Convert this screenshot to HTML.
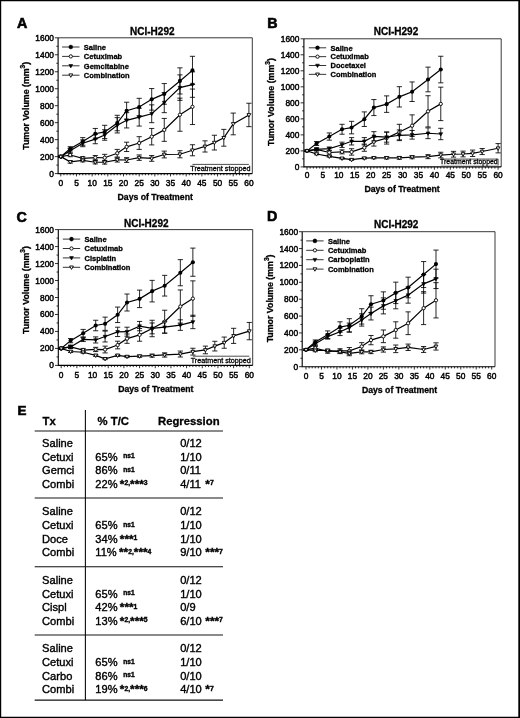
<!DOCTYPE html>
<html><head><meta charset="utf-8"><title>Figure</title>
<style>html,body{margin:0;padding:0;background:#fff}svg{display:block}</style></head>
<body>
<svg width="520" height="718" viewBox="0 0 520 718">
<defs><filter id="soft" x="0" y="0" width="520" height="718" filterUnits="userSpaceOnUse"><feGaussianBlur stdDeviation="0.35"/></filter></defs>
<rect x="0" y="0" width="520" height="718" fill="#fff"/>
<g filter="url(#soft)">
<path d="M58.1 37.8H252.3V173.6" fill="none" stroke="#222" stroke-width="0.9"/>
<path d="M58.1 37.8V173.6H252.3" fill="none" stroke="#000" stroke-width="1.1"/>
<path d="M58.1 173.6h-3.3M58.1 165.11h-1.8M58.1 156.62h-3.3M58.1 148.14h-1.8M58.1 139.65h-3.3M58.1 131.16h-1.8M58.1 122.67h-3.3M58.1 114.19h-1.8M58.1 105.7h-3.3M58.1 97.21h-1.8M58.1 88.72h-3.3M58.1 80.24h-1.8M58.1 71.75h-3.3M58.1 63.26h-1.8M58.1 54.77h-3.3M58.1 46.29h-1.8M58.1 37.8h-3.3M60.8 173.6v2.8M63.93 173.6v1.7M67.07 173.6v1.7M70.2 173.6v1.7M73.34 173.6v1.7M76.47 173.6v2.8M79.61 173.6v1.7M82.75 173.6v1.7M85.88 173.6v1.7M89.01 173.6v1.7M92.15 173.6v2.8M95.28 173.6v1.7M98.42 173.6v1.7M101.55 173.6v1.7M104.69 173.6v1.7M107.82 173.6v2.8M110.96 173.6v1.7M114.09 173.6v1.7M117.23 173.6v1.7M120.36 173.6v1.7M123.5 173.6v2.8M126.63 173.6v1.7M129.77 173.6v1.7M132.9 173.6v1.7M136.04 173.6v1.7M139.18 173.6v2.8M142.31 173.6v1.7M145.44 173.6v1.7M148.58 173.6v1.7M151.71 173.6v1.7M154.85 173.6v2.8M157.98 173.6v1.7M161.12 173.6v1.7M164.25 173.6v1.7M167.39 173.6v1.7M170.52 173.6v2.8M173.66 173.6v1.7M176.79 173.6v1.7M179.93 173.6v1.7M183.06 173.6v1.7M186.2 173.6v2.8M189.33 173.6v1.7M192.47 173.6v1.7M195.6 173.6v1.7M198.74 173.6v1.7M201.88 173.6v2.8M205.01 173.6v1.7M208.14 173.6v1.7M211.28 173.6v1.7M214.41 173.6v1.7M217.55 173.6v2.8M220.69 173.6v1.7M223.82 173.6v1.7M226.95 173.6v1.7M230.09 173.6v1.7M233.22 173.6v2.8M236.36 173.6v1.7M239.5 173.6v1.7M242.63 173.6v1.7M245.76 173.6v1.7M248.9 173.6v2.8" fill="none" stroke="#000" stroke-width="0.8"/>
<g font-family="Liberation Sans, Arial, sans-serif" stroke="#000" stroke-width="0.3" font-size="8.4" fill="#000" style="stroke-width:0.45">
<text x="54" y="176.6" text-anchor="end">0</text>
<text x="54" y="159.62" text-anchor="end">200</text>
<text x="54" y="142.65" text-anchor="end">400</text>
<text x="54" y="125.67" text-anchor="end">600</text>
<text x="54" y="108.7" text-anchor="end">800</text>
<text x="54" y="91.72" text-anchor="end">1000</text>
<text x="54" y="74.75" text-anchor="end">1200</text>
<text x="54" y="57.77" text-anchor="end">1400</text>
<text x="54" y="40.8" text-anchor="end">1600</text>
<text x="60.8" y="186.1" text-anchor="middle">0</text>
<text x="76.47" y="186.1" text-anchor="middle">5</text>
<text x="92.15" y="186.1" text-anchor="middle">10</text>
<text x="107.82" y="186.1" text-anchor="middle">15</text>
<text x="123.5" y="186.1" text-anchor="middle">20</text>
<text x="139.18" y="186.1" text-anchor="middle">25</text>
<text x="154.85" y="186.1" text-anchor="middle">30</text>
<text x="170.52" y="186.1" text-anchor="middle">35</text>
<text x="186.2" y="186.1" text-anchor="middle">40</text>
<text x="201.88" y="186.1" text-anchor="middle">45</text>
<text x="217.55" y="186.1" text-anchor="middle">50</text>
<text x="233.22" y="186.1" text-anchor="middle">55</text>
<text x="248.9" y="186.1" text-anchor="middle">60</text>
</g>
<text x="152.3" y="35.3" font-family="Liberation Sans, Arial, sans-serif" stroke="#000" stroke-width="0.3" font-size="10" font-weight="bold" text-anchor="middle">NCI-H292</text>
<text x="155.2" y="200.4" font-family="Liberation Sans, Arial, sans-serif" stroke="#000" stroke-width="0.3" font-size="8.7" font-weight="bold" text-anchor="middle">Days of Treatment</text>
<text transform="translate(28.7 105.8) rotate(-90)" font-family="Liberation Sans, Arial, sans-serif" stroke="#000" stroke-width="0.3" font-size="8.8" font-weight="bold" text-anchor="middle">Tumor Volume (mm<tspan font-size="6.6" dy="-4">3</tspan><tspan dy="4">)</tspan></text>
<text x="17" y="28" font-family="Liberation Sans, Arial, sans-serif" stroke="#000" stroke-width="0.3" font-size="14.3" font-weight="bold" style="stroke-width:0.6">A</text>
<polyline points="60.8,156.62 70.2,148.82 82.75,141.43 95.28,133.71 104.69,131.93 117.23,123.01 126.63,110.71 139.18,107.06 151.71,99.33 164.25,93.9 179.93,80.92 192.47,70.39" fill="none" stroke="#000" stroke-width="1.2"/>
<path d="M60.8 155.95V157.3M58.2 155.95h5.2M58.2 157.3h5.2M70.2 146.69V150.94M67.61 146.69h5.2M67.61 150.94h5.2M82.75 137.61V145.25M80.15 137.61h5.2M80.15 145.25h5.2M95.28 128.45V138.97M92.69 128.45h5.2M92.69 138.97h5.2M104.69 125.31V138.55M102.09 125.31h5.2M102.09 138.55h5.2M117.23 115.29V130.74M114.63 115.29h5.2M114.63 130.74h5.2M126.63 102.22V119.2M124.03 102.22h5.2M124.03 119.2h5.2M139.18 98.32V115.8M136.58 98.32h5.2M136.58 115.8h5.2M151.71 88.56V110.11M149.11 88.56h5.2M149.11 110.11h5.2M164.25 83.55V104.26M161.66 83.55h5.2M161.66 104.26h5.2M179.93 67.85V93.99M177.33 67.85h5.2M177.33 93.99h5.2M192.47 56.3V84.48M189.87 56.3h5.2M189.87 84.48h5.2" fill="none" stroke="#000" stroke-width="0.85"/>
<circle cx="60.8" cy="156.62" r="2.05" fill="#000"/>
<circle cx="70.2" cy="148.82" r="2.05" fill="#000"/>
<circle cx="82.75" cy="141.43" r="2.05" fill="#000"/>
<circle cx="95.28" cy="133.71" r="2.05" fill="#000"/>
<circle cx="104.69" cy="131.93" r="2.05" fill="#000"/>
<circle cx="117.23" cy="123.01" r="2.05" fill="#000"/>
<circle cx="126.63" cy="110.71" r="2.05" fill="#000"/>
<circle cx="139.18" cy="107.06" r="2.05" fill="#000"/>
<circle cx="151.71" cy="99.33" r="2.05" fill="#000"/>
<circle cx="164.25" cy="93.9" r="2.05" fill="#000"/>
<circle cx="179.93" cy="80.92" r="2.05" fill="#000"/>
<circle cx="192.47" cy="70.39" r="2.05" fill="#000"/>
<polyline points="60.8,156.62 70.2,155.01 82.75,158.32 95.28,157.64 104.69,157.73 117.23,153.23 126.63,146.86 139.18,143.04 151.71,136.68 164.25,129.89 179.93,114.7 192.47,106.8" fill="none" stroke="#000" stroke-width="1.2"/>
<path d="M60.8 155.95V157.3M58.2 155.95h5.2M58.2 157.3h5.2M70.2 153.31V156.71M67.61 153.31h5.2M67.61 156.71h5.2M82.75 156.62V160.02M80.15 156.62h5.2M80.15 160.02h5.2M95.28 155.52V159.77M92.69 155.52h5.2M92.69 159.77h5.2M104.69 154.33V161.12M102.09 154.33h5.2M102.09 161.12h5.2M117.23 149.41V157.05M114.63 149.41h5.2M114.63 157.05h5.2M126.63 142.2V151.53M124.03 142.2h5.2M124.03 151.53h5.2M139.18 136.68V149.41M136.58 136.68h5.2M136.58 149.41h5.2M151.71 128.45V144.91M149.11 128.45h5.2M149.11 144.91h5.2M164.25 118.43V141.35M161.66 118.43h5.2M161.66 141.35h5.2M179.93 98.15V131.25M177.33 98.15h5.2M177.33 131.25h5.2M192.47 89.06V124.54M189.87 89.06h5.2M189.87 124.54h5.2" fill="none" stroke="#000" stroke-width="0.85"/>
<circle cx="60.8" cy="156.62" r="1.65" fill="#fff" stroke="#000" stroke-width="0.9"/>
<circle cx="70.2" cy="155.01" r="1.65" fill="#fff" stroke="#000" stroke-width="0.9"/>
<circle cx="82.75" cy="158.32" r="1.65" fill="#fff" stroke="#000" stroke-width="0.9"/>
<circle cx="95.28" cy="157.64" r="1.65" fill="#fff" stroke="#000" stroke-width="0.9"/>
<circle cx="104.69" cy="157.73" r="1.65" fill="#fff" stroke="#000" stroke-width="0.9"/>
<circle cx="117.23" cy="153.23" r="1.65" fill="#fff" stroke="#000" stroke-width="0.9"/>
<circle cx="126.63" cy="146.86" r="1.65" fill="#fff" stroke="#000" stroke-width="0.9"/>
<circle cx="139.18" cy="143.04" r="1.65" fill="#fff" stroke="#000" stroke-width="0.9"/>
<circle cx="151.71" cy="136.68" r="1.65" fill="#fff" stroke="#000" stroke-width="0.9"/>
<circle cx="164.25" cy="129.89" r="1.65" fill="#fff" stroke="#000" stroke-width="0.9"/>
<circle cx="179.93" cy="114.7" r="1.65" fill="#fff" stroke="#000" stroke-width="0.9"/>
<circle cx="192.47" cy="106.8" r="1.65" fill="#fff" stroke="#000" stroke-width="0.9"/>
<polyline points="60.8,156.62 70.2,150.68 82.75,143.3 95.28,139.14 104.69,134.98 117.23,125.31 126.63,120.3 139.18,117.16 151.71,113.76 164.25,102.64 179.93,87.62 192.47,84.57" fill="none" stroke="#000" stroke-width="1.2"/>
<path d="M60.8 155.95V157.3M58.2 155.95h5.2M58.2 157.3h5.2M70.2 148.56V152.81M67.61 148.56h5.2M67.61 152.81h5.2M82.75 139.9V146.69M80.15 139.9h5.2M80.15 146.69h5.2M95.28 134.56V143.72M92.69 134.56h5.2M92.69 143.72h5.2M104.69 129.72V140.24M102.09 129.72h5.2M102.09 140.24h5.2M117.23 117.67V132.94M114.63 117.67h5.2M114.63 132.94h5.2M126.63 112.66V127.94M124.03 112.66h5.2M124.03 127.94h5.2M139.18 108.25V126.07M136.58 108.25h5.2M136.58 126.07h5.2M151.71 104.85V122.67M149.11 104.85h5.2M149.11 122.67h5.2M164.25 92.63V112.66M161.66 92.63h5.2M161.66 112.66h5.2M179.93 74.89V100.35M177.33 74.89h5.2M177.33 100.35h5.2M192.47 71.83V97.3M189.87 71.83h5.2M189.87 97.3h5.2" fill="none" stroke="#000" stroke-width="0.85"/>
<polygon points="58.9,155.32 62.7,155.32 60.8,158.72" fill="#000" stroke="#000" stroke-width="0.6"/>
<polygon points="68.3,149.38 72.11,149.38 70.2,152.78" fill="#000" stroke="#000" stroke-width="0.6"/>
<polygon points="80.84,142 84.65,142 82.75,145.4" fill="#000" stroke="#000" stroke-width="0.6"/>
<polygon points="93.38,137.84 97.19,137.84 95.28,141.24" fill="#000" stroke="#000" stroke-width="0.6"/>
<polygon points="102.79,133.68 106.59,133.68 104.69,137.08" fill="#000" stroke="#000" stroke-width="0.6"/>
<polygon points="115.33,124.01 119.13,124.01 117.23,127.41" fill="#000" stroke="#000" stroke-width="0.6"/>
<polygon points="124.73,119 128.53,119 126.63,122.4" fill="#000" stroke="#000" stroke-width="0.6"/>
<polygon points="137.28,115.86 141.08,115.86 139.18,119.26" fill="#000" stroke="#000" stroke-width="0.6"/>
<polygon points="149.81,112.46 153.61,112.46 151.71,115.86" fill="#000" stroke="#000" stroke-width="0.6"/>
<polygon points="162.35,101.34 166.16,101.34 164.25,104.74" fill="#000" stroke="#000" stroke-width="0.6"/>
<polygon points="178.03,86.32 181.83,86.32 179.93,89.72" fill="#000" stroke="#000" stroke-width="0.6"/>
<polygon points="190.57,83.27 194.37,83.27 192.47,86.67" fill="#000" stroke="#000" stroke-width="0.6"/>
<polyline points="60.8,156.62 70.2,161.89 82.75,160.36 95.28,162.23 104.69,162.23 117.23,159.94 126.63,160.02 139.18,157.64 151.71,158.41 164.25,154.5 179.93,154.25 192.47,150.26 205.01,146.44 214.41,142.62 223.82,137.78 233.22,123.95 248.9,114.95" fill="none" stroke="#000" stroke-width="1.2"/>
<path d="M60.8 155.95V157.3M58.2 155.95h5.2M58.2 157.3h5.2M70.2 160.61V163.16M67.61 160.61h5.2M67.61 163.16h5.2M82.75 158.83V161.89M80.15 158.83h5.2M80.15 161.89h5.2M95.28 160.53V163.92M92.69 160.53h5.2M92.69 163.92h5.2M104.69 160.36V164.09M102.09 160.36h5.2M102.09 164.09h5.2M117.23 157.81V162.06M114.63 157.81h5.2M114.63 162.06h5.2M126.63 157.64V162.4M124.03 157.64h5.2M124.03 162.4h5.2M139.18 154.93V160.36M136.58 154.93h5.2M136.58 160.36h5.2M151.71 155.52V161.29M149.11 155.52h5.2M149.11 161.29h5.2M164.25 151.11V157.9M161.66 151.11h5.2M161.66 157.9h5.2M179.93 150.68V157.81M177.33 150.68h5.2M177.33 157.81h5.2M192.47 144.74V155.78M189.87 144.74h5.2M189.87 155.78h5.2M205.01 140.84V152.04M202.41 140.84h5.2M202.41 152.04h5.2M214.41 135.24V150M211.81 135.24h5.2M211.81 150h5.2M223.82 129.38V146.19M221.22 129.38h5.2M221.22 146.19h5.2M233.22 113.08V134.81M230.62 113.08h5.2M230.62 134.81h5.2M248.9 103.24V126.66M246.3 103.24h5.2M246.3 126.66h5.2" fill="none" stroke="#000" stroke-width="0.85"/>
<polygon points="58.9,155.32 62.7,155.32 60.8,158.72" fill="#fff" stroke="#000" stroke-width="0.9"/>
<polygon points="68.3,160.59 72.11,160.59 70.2,163.99" fill="#fff" stroke="#000" stroke-width="0.9"/>
<polygon points="80.84,159.06 84.65,159.06 82.75,162.46" fill="#fff" stroke="#000" stroke-width="0.9"/>
<polygon points="93.38,160.93 97.19,160.93 95.28,164.33" fill="#fff" stroke="#000" stroke-width="0.9"/>
<polygon points="102.79,160.93 106.59,160.93 104.69,164.33" fill="#fff" stroke="#000" stroke-width="0.9"/>
<polygon points="115.33,158.64 119.13,158.64 117.23,162.04" fill="#fff" stroke="#000" stroke-width="0.9"/>
<polygon points="124.73,158.72 128.53,158.72 126.63,162.12" fill="#fff" stroke="#000" stroke-width="0.9"/>
<polygon points="137.28,156.34 141.08,156.34 139.18,159.74" fill="#fff" stroke="#000" stroke-width="0.9"/>
<polygon points="149.81,157.11 153.61,157.11 151.71,160.51" fill="#fff" stroke="#000" stroke-width="0.9"/>
<polygon points="162.35,153.2 166.16,153.2 164.25,156.6" fill="#fff" stroke="#000" stroke-width="0.9"/>
<polygon points="178.03,152.95 181.83,152.95 179.93,156.35" fill="#fff" stroke="#000" stroke-width="0.9"/>
<polygon points="190.57,148.96 194.37,148.96 192.47,152.36" fill="#fff" stroke="#000" stroke-width="0.9"/>
<polygon points="203.11,145.14 206.91,145.14 205.01,148.54" fill="#fff" stroke="#000" stroke-width="0.9"/>
<polygon points="212.51,141.32 216.31,141.32 214.41,144.72" fill="#fff" stroke="#000" stroke-width="0.9"/>
<polygon points="221.92,136.48 225.72,136.48 223.82,139.88" fill="#fff" stroke="#000" stroke-width="0.9"/>
<polygon points="231.32,122.65 235.12,122.65 233.22,126.05" fill="#fff" stroke="#000" stroke-width="0.9"/>
<polygon points="247,113.65 250.8,113.65 248.9,117.05" fill="#fff" stroke="#000" stroke-width="0.9"/>
<g font-family="Liberation Sans, Arial, sans-serif" stroke="#000" stroke-width="0.3" font-size="7.5" font-weight="bold" fill="#000">
<path d="M62.1 47h17.4" stroke="#000" stroke-width="0.8"/>
<circle cx="70.8" cy="47" r="2.05" fill="#000"/>
<text x="83.8" y="49.7">Saline</text>
<path d="M62.1 56.4h17.4" stroke="#000" stroke-width="0.8"/>
<circle cx="70.8" cy="56.4" r="1.65" fill="#fff" stroke="#000" stroke-width="0.9"/>
<text x="83.8" y="59.1">Cetuximab</text>
<path d="M62.1 65.8h17.4" stroke="#000" stroke-width="0.8"/>
<polygon points="68.9,64.5 72.7,64.5 70.8,67.9" fill="#000" stroke="#000" stroke-width="0.6"/>
<text x="83.8" y="68.5">Gemcitabine</text>
<path d="M62.1 75.2h17.4" stroke="#000" stroke-width="0.8"/>
<polygon points="68.9,73.9 72.7,73.9 70.8,77.3" fill="#fff" stroke="#000" stroke-width="0.9"/>
<text x="83.8" y="77.9">Combination</text>
</g>
<path d="M192.47 164.4H248.9" stroke="#000" stroke-width="0.7" fill="none"/>
<text x="250.4" y="171" font-family="Liberation Sans, Arial, sans-serif" stroke="#000" stroke-width="0.3" font-size="7.2" text-anchor="end">Treatment stopped</text>
<path d="M303.9 38.8H501.2V166.9" fill="none" stroke="#222" stroke-width="0.9"/>
<path d="M303.9 38.8V166.9H501.2" fill="none" stroke="#000" stroke-width="1.1"/>
<path d="M303.9 166.9h-3.3M303.9 158.89h-1.8M303.9 150.89h-3.3M303.9 142.88h-1.8M303.9 134.88h-3.3M303.9 126.87h-1.8M303.9 118.86h-3.3M303.9 110.86h-1.8M303.9 102.85h-3.3M303.9 94.84h-1.8M303.9 86.84h-3.3M303.9 78.83h-1.8M303.9 70.82h-3.3M303.9 62.82h-1.8M303.9 54.81h-3.3M303.9 46.81h-1.8M303.9 38.8h-3.3M307 166.9v2.8M310.19 166.9v1.7M313.37 166.9v1.7M316.56 166.9v1.7M319.74 166.9v1.7M322.93 166.9v2.8M326.11 166.9v1.7M329.3 166.9v1.7M332.48 166.9v1.7M335.67 166.9v1.7M338.85 166.9v2.8M342.04 166.9v1.7M345.22 166.9v1.7M348.4 166.9v1.7M351.59 166.9v1.7M354.77 166.9v2.8M357.96 166.9v1.7M361.14 166.9v1.7M364.33 166.9v1.7M367.51 166.9v1.7M370.7 166.9v2.8M373.88 166.9v1.7M377.07 166.9v1.7M380.25 166.9v1.7M383.44 166.9v1.7M386.62 166.9v2.8M389.81 166.9v1.7M393 166.9v1.7M396.18 166.9v1.7M399.37 166.9v1.7M402.55 166.9v2.8M405.74 166.9v1.7M408.92 166.9v1.7M412.11 166.9v1.7M415.29 166.9v1.7M418.48 166.9v2.8M421.66 166.9v1.7M424.85 166.9v1.7M428.03 166.9v1.7M431.22 166.9v1.7M434.4 166.9v2.8M437.59 166.9v1.7M440.77 166.9v1.7M443.96 166.9v1.7M447.14 166.9v1.7M450.32 166.9v2.8M453.51 166.9v1.7M456.69 166.9v1.7M459.88 166.9v1.7M463.06 166.9v1.7M466.25 166.9v2.8M469.44 166.9v1.7M472.62 166.9v1.7M475.81 166.9v1.7M478.99 166.9v1.7M482.18 166.9v2.8M485.36 166.9v1.7M488.55 166.9v1.7M491.73 166.9v1.7M494.91 166.9v1.7M498.1 166.9v2.8" fill="none" stroke="#000" stroke-width="0.8"/>
<g font-family="Liberation Sans, Arial, sans-serif" stroke="#000" stroke-width="0.3" font-size="8.4" fill="#000" style="stroke-width:0.45">
<text x="299.4" y="169.9" text-anchor="end">0</text>
<text x="299.4" y="153.89" text-anchor="end">200</text>
<text x="299.4" y="137.88" text-anchor="end">400</text>
<text x="299.4" y="121.86" text-anchor="end">600</text>
<text x="299.4" y="105.85" text-anchor="end">800</text>
<text x="299.4" y="89.84" text-anchor="end">1000</text>
<text x="299.4" y="73.82" text-anchor="end">1200</text>
<text x="299.4" y="57.81" text-anchor="end">1400</text>
<text x="299.4" y="41.8" text-anchor="end">1600</text>
<text x="307" y="178.2" text-anchor="middle">0</text>
<text x="322.93" y="178.2" text-anchor="middle">5</text>
<text x="338.85" y="178.2" text-anchor="middle">10</text>
<text x="354.77" y="178.2" text-anchor="middle">15</text>
<text x="370.7" y="178.2" text-anchor="middle">20</text>
<text x="386.62" y="178.2" text-anchor="middle">25</text>
<text x="402.55" y="178.2" text-anchor="middle">30</text>
<text x="418.48" y="178.2" text-anchor="middle">35</text>
<text x="434.4" y="178.2" text-anchor="middle">40</text>
<text x="450.32" y="178.2" text-anchor="middle">45</text>
<text x="466.25" y="178.2" text-anchor="middle">50</text>
<text x="482.18" y="178.2" text-anchor="middle">55</text>
<text x="498.1" y="178.2" text-anchor="middle">60</text>
</g>
<text x="396" y="35.3" font-family="Liberation Sans, Arial, sans-serif" stroke="#000" stroke-width="0.3" font-size="10" font-weight="bold" text-anchor="middle">NCI-H292</text>
<text x="402.1" y="191.5" font-family="Liberation Sans, Arial, sans-serif" stroke="#000" stroke-width="0.3" font-size="8.7" font-weight="bold" text-anchor="middle">Days of Treatment</text>
<text transform="translate(274 102.1) rotate(-90)" font-family="Liberation Sans, Arial, sans-serif" stroke="#000" stroke-width="0.3" font-size="8.8" font-weight="bold" text-anchor="middle">Tumor Volume (mm<tspan font-size="6.6" dy="-4">3</tspan><tspan dy="4">)</tspan></text>
<text x="267.3" y="28" font-family="Liberation Sans, Arial, sans-serif" stroke="#000" stroke-width="0.3" font-size="14.3" font-weight="bold" style="stroke-width:0.6">B</text>
<polyline points="307,150.89 316.56,143.52 329.3,136.56 342.04,129.27 351.59,127.59 364.33,119.18 373.88,107.57 386.62,104.13 399.37,96.85 412.11,91.72 428.03,79.47 440.77,69.54" fill="none" stroke="#000" stroke-width="1.2"/>
<path d="M307 150.25V151.53M304.4 150.25h5.2M304.4 151.53h5.2M316.56 141.52V145.52M313.95 141.52h5.2M313.95 145.52h5.2M329.3 132.95V140.16M326.69 132.95h5.2M326.69 140.16h5.2M342.04 124.31V134.23M339.44 124.31h5.2M339.44 134.23h5.2M351.59 121.34V133.83M348.99 121.34h5.2M348.99 133.83h5.2M364.33 111.9V126.47M361.73 111.9h5.2M361.73 126.47h5.2M373.88 99.57V115.58M371.28 99.57h5.2M371.28 115.58h5.2M386.62 95.88V112.38M384.02 95.88h5.2M384.02 112.38h5.2M399.37 86.68V107.01M396.76 86.68h5.2M396.76 107.01h5.2M412.11 81.95V101.49M409.5 81.95h5.2M409.5 101.49h5.2M428.03 67.14V91.8M425.43 67.14h5.2M425.43 91.8h5.2M440.77 56.25V82.83M438.17 56.25h5.2M438.17 82.83h5.2" fill="none" stroke="#000" stroke-width="0.85"/>
<circle cx="307" cy="150.89" r="2.05" fill="#000"/>
<circle cx="316.56" cy="143.52" r="2.05" fill="#000"/>
<circle cx="329.3" cy="136.56" r="2.05" fill="#000"/>
<circle cx="342.04" cy="129.27" r="2.05" fill="#000"/>
<circle cx="351.59" cy="127.59" r="2.05" fill="#000"/>
<circle cx="364.33" cy="119.18" r="2.05" fill="#000"/>
<circle cx="373.88" cy="107.57" r="2.05" fill="#000"/>
<circle cx="386.62" cy="104.13" r="2.05" fill="#000"/>
<circle cx="399.37" cy="96.85" r="2.05" fill="#000"/>
<circle cx="412.11" cy="91.72" r="2.05" fill="#000"/>
<circle cx="428.03" cy="79.47" r="2.05" fill="#000"/>
<circle cx="440.77" cy="69.54" r="2.05" fill="#000"/>
<polyline points="307,150.89 316.56,149.37 329.3,152.49 342.04,151.85 351.59,151.93 364.33,147.69 373.88,141.68 386.62,138.08 399.37,132.07 412.11,125.67 428.03,111.34 440.77,103.89" fill="none" stroke="#000" stroke-width="1.2"/>
<path d="M307 150.25V151.53M304.4 150.25h5.2M304.4 151.53h5.2M316.56 147.77V150.97M313.95 147.77h5.2M313.95 150.97h5.2M329.3 150.89V154.09M326.69 150.89h5.2M326.69 154.09h5.2M342.04 149.85V153.85M339.44 149.85h5.2M339.44 153.85h5.2M351.59 148.73V155.13M348.99 148.73h5.2M348.99 155.13h5.2M364.33 144.08V151.29M361.73 144.08h5.2M361.73 151.29h5.2M373.88 137.28V146.08M371.28 137.28h5.2M371.28 146.08h5.2M386.62 132.07V144.08M384.02 132.07h5.2M384.02 144.08h5.2M399.37 124.31V139.84M396.76 124.31h5.2M396.76 139.84h5.2M412.11 114.86V136.48M409.5 114.86h5.2M409.5 136.48h5.2M428.03 95.72V126.95M425.43 95.72h5.2M425.43 126.95h5.2M440.77 87.16V120.62M438.17 87.16h5.2M438.17 120.62h5.2" fill="none" stroke="#000" stroke-width="0.85"/>
<circle cx="307" cy="150.89" r="1.65" fill="#fff" stroke="#000" stroke-width="0.9"/>
<circle cx="316.56" cy="149.37" r="1.65" fill="#fff" stroke="#000" stroke-width="0.9"/>
<circle cx="329.3" cy="152.49" r="1.65" fill="#fff" stroke="#000" stroke-width="0.9"/>
<circle cx="342.04" cy="151.85" r="1.65" fill="#fff" stroke="#000" stroke-width="0.9"/>
<circle cx="351.59" cy="151.93" r="1.65" fill="#fff" stroke="#000" stroke-width="0.9"/>
<circle cx="364.33" cy="147.69" r="1.65" fill="#fff" stroke="#000" stroke-width="0.9"/>
<circle cx="373.88" cy="141.68" r="1.65" fill="#fff" stroke="#000" stroke-width="0.9"/>
<circle cx="386.62" cy="138.08" r="1.65" fill="#fff" stroke="#000" stroke-width="0.9"/>
<circle cx="399.37" cy="132.07" r="1.65" fill="#fff" stroke="#000" stroke-width="0.9"/>
<circle cx="412.11" cy="125.67" r="1.65" fill="#fff" stroke="#000" stroke-width="0.9"/>
<circle cx="428.03" cy="111.34" r="1.65" fill="#fff" stroke="#000" stroke-width="0.9"/>
<circle cx="440.77" cy="103.89" r="1.65" fill="#fff" stroke="#000" stroke-width="0.9"/>
<polyline points="307,150.89 316.56,149.45 329.3,148.65 342.04,144.8 351.59,141.28 364.33,141.28 373.88,136.32 386.62,137.12 399.37,135.28 412.11,134.79 428.03,133.27 440.77,133.99" fill="none" stroke="#000" stroke-width="1.2"/>
<path d="M307 150.25V151.53M304.4 150.25h5.2M304.4 151.53h5.2M316.56 148.25V150.65M313.95 148.25h5.2M313.95 150.65h5.2M329.3 147.04V150.25M326.69 147.04h5.2M326.69 150.25h5.2M342.04 142.16V147.44M339.44 142.16h5.2M339.44 147.44h5.2M351.59 137.6V144.96M348.99 137.6h5.2M348.99 144.96h5.2M364.33 137.6V144.96M361.73 137.6h5.2M361.73 144.96h5.2M373.88 131.67V140.96M371.28 131.67h5.2M371.28 140.96h5.2M386.62 132.07V142.16M384.02 132.07h5.2M384.02 142.16h5.2M399.37 129.91V140.64M396.76 129.91h5.2M396.76 140.64h5.2M412.11 130.47V139.12M409.5 130.47h5.2M409.5 139.12h5.2M428.03 127.91V138.64M425.43 127.91h5.2M425.43 138.64h5.2M440.77 128.31V139.68M438.17 128.31h5.2M438.17 139.68h5.2" fill="none" stroke="#000" stroke-width="0.85"/>
<polygon points="305.1,149.59 308.9,149.59 307,152.99" fill="#000" stroke="#000" stroke-width="0.6"/>
<polygon points="314.66,148.15 318.45,148.15 316.56,151.55" fill="#000" stroke="#000" stroke-width="0.6"/>
<polygon points="327.4,147.35 331.19,147.35 329.3,150.75" fill="#000" stroke="#000" stroke-width="0.6"/>
<polygon points="340.14,143.5 343.94,143.5 342.04,146.9" fill="#000" stroke="#000" stroke-width="0.6"/>
<polygon points="349.69,139.98 353.49,139.98 351.59,143.38" fill="#000" stroke="#000" stroke-width="0.6"/>
<polygon points="362.43,139.98 366.23,139.98 364.33,143.38" fill="#000" stroke="#000" stroke-width="0.6"/>
<polygon points="371.99,135.02 375.78,135.02 373.88,138.42" fill="#000" stroke="#000" stroke-width="0.6"/>
<polygon points="384.73,135.82 388.52,135.82 386.62,139.22" fill="#000" stroke="#000" stroke-width="0.6"/>
<polygon points="397.47,133.98 401.26,133.98 399.37,137.38" fill="#000" stroke="#000" stroke-width="0.6"/>
<polygon points="410.21,133.49 414,133.49 412.11,136.89" fill="#000" stroke="#000" stroke-width="0.6"/>
<polygon points="426.13,131.97 429.93,131.97 428.03,135.37" fill="#000" stroke="#000" stroke-width="0.6"/>
<polygon points="438.87,132.69 442.67,132.69 440.77,136.09" fill="#000" stroke="#000" stroke-width="0.6"/>
<polyline points="307,150.89 316.56,154.01 329.3,156.33 342.04,158.33 351.59,159.69 364.33,158.17 373.88,157.85 386.62,157.85 399.37,157.85 412.11,157.13 428.03,156.65 440.77,155.05 453.51,154.25 463.06,154.01 472.62,153.29 482.18,151.53 498.1,148.25" fill="none" stroke="#000" stroke-width="1.2"/>
<path d="M307 150.25V151.53M304.4 150.25h5.2M304.4 151.53h5.2M316.56 153.21V154.81M313.95 153.21h5.2M313.95 154.81h5.2M329.3 155.53V157.13M326.69 155.53h5.2M326.69 157.13h5.2M342.04 157.53V159.13M339.44 157.53h5.2M339.44 159.13h5.2M351.59 159.05V160.33M348.99 159.05h5.2M348.99 160.33h5.2M364.33 157.37V158.97M361.73 157.37h5.2M361.73 158.97h5.2M373.88 156.89V158.81M371.28 156.89h5.2M371.28 158.81h5.2M386.62 156.65V159.05M384.02 156.65h5.2M384.02 159.05h5.2M399.37 156.41V159.29M396.76 156.41h5.2M396.76 159.29h5.2M412.11 155.53V158.73M409.5 155.53h5.2M409.5 158.73h5.2M428.03 154.65V158.65M425.43 154.65h5.2M425.43 158.65h5.2M440.77 152.25V157.85M438.17 152.25h5.2M438.17 157.85h5.2M453.51 151.37V157.13M450.91 151.37h5.2M450.91 157.13h5.2M463.06 151.13V156.89M460.46 151.13h5.2M460.46 156.89h5.2M472.62 150.09V156.49M470.02 150.09h5.2M470.02 156.49h5.2M482.18 148.49V154.57M479.57 148.49h5.2M479.57 154.57h5.2M498.1 143.6V152.89M495.5 143.6h5.2M495.5 152.89h5.2" fill="none" stroke="#000" stroke-width="0.85"/>
<polygon points="305.1,149.59 308.9,149.59 307,152.99" fill="#fff" stroke="#000" stroke-width="0.9"/>
<polygon points="314.66,152.71 318.45,152.71 316.56,156.11" fill="#fff" stroke="#000" stroke-width="0.9"/>
<polygon points="327.4,155.03 331.19,155.03 329.3,158.43" fill="#fff" stroke="#000" stroke-width="0.9"/>
<polygon points="340.14,157.03 343.94,157.03 342.04,160.43" fill="#fff" stroke="#000" stroke-width="0.9"/>
<polygon points="349.69,158.39 353.49,158.39 351.59,161.79" fill="#fff" stroke="#000" stroke-width="0.9"/>
<polygon points="362.43,156.87 366.23,156.87 364.33,160.27" fill="#fff" stroke="#000" stroke-width="0.9"/>
<polygon points="371.99,156.55 375.78,156.55 373.88,159.95" fill="#fff" stroke="#000" stroke-width="0.9"/>
<polygon points="384.73,156.55 388.52,156.55 386.62,159.95" fill="#fff" stroke="#000" stroke-width="0.9"/>
<polygon points="397.47,156.55 401.26,156.55 399.37,159.95" fill="#fff" stroke="#000" stroke-width="0.9"/>
<polygon points="410.21,155.83 414,155.83 412.11,159.23" fill="#fff" stroke="#000" stroke-width="0.9"/>
<polygon points="426.13,155.35 429.93,155.35 428.03,158.75" fill="#fff" stroke="#000" stroke-width="0.9"/>
<polygon points="438.87,153.75 442.67,153.75 440.77,157.15" fill="#fff" stroke="#000" stroke-width="0.9"/>
<polygon points="451.61,152.95 455.41,152.95 453.51,156.35" fill="#fff" stroke="#000" stroke-width="0.9"/>
<polygon points="461.17,152.71 464.96,152.71 463.06,156.11" fill="#fff" stroke="#000" stroke-width="0.9"/>
<polygon points="470.72,151.99 474.52,151.99 472.62,155.39" fill="#fff" stroke="#000" stroke-width="0.9"/>
<polygon points="480.28,150.23 484.07,150.23 482.18,153.63" fill="#fff" stroke="#000" stroke-width="0.9"/>
<polygon points="496.2,146.95 500,146.95 498.1,150.35" fill="#fff" stroke="#000" stroke-width="0.9"/>
<g font-family="Liberation Sans, Arial, sans-serif" stroke="#000" stroke-width="0.3" font-size="7.5" font-weight="bold" fill="#000">
<path d="M308.8 47.8h17.4" stroke="#000" stroke-width="0.8"/>
<circle cx="317.5" cy="47.8" r="2.05" fill="#000"/>
<text x="330.5" y="50.5">Saline</text>
<path d="M308.8 56.65h17.4" stroke="#000" stroke-width="0.8"/>
<circle cx="317.5" cy="56.65" r="1.65" fill="#fff" stroke="#000" stroke-width="0.9"/>
<text x="330.5" y="59.35">Cetuximab</text>
<path d="M308.8 65.5h17.4" stroke="#000" stroke-width="0.8"/>
<polygon points="315.6,64.2 319.4,64.2 317.5,67.6" fill="#000" stroke="#000" stroke-width="0.6"/>
<text x="330.5" y="68.2">Docetaxel</text>
<path d="M308.8 74.35h17.4" stroke="#000" stroke-width="0.8"/>
<polygon points="315.6,73.05 319.4,73.05 317.5,76.45" fill="#fff" stroke="#000" stroke-width="0.9"/>
<text x="330.5" y="77.05">Combination</text>
</g>
<path d="M440.77 159.08H498.1V165.5" stroke="#000" stroke-width="0.7" fill="none"/>
<path d="M440.77 165.3H498.1" stroke="#999" stroke-width="0.6" fill="none"/>
<text x="497.7" y="164.3" font-family="Liberation Sans, Arial, sans-serif" stroke="#000" stroke-width="0.3" font-size="6.9" text-anchor="end">Treatment stopped</text>
<path d="M58.3 229.6H252.7V365.4" fill="none" stroke="#222" stroke-width="0.9"/>
<path d="M58.3 229.6V365.4H252.7" fill="none" stroke="#000" stroke-width="1.1"/>
<path d="M58.3 365.4h-3.3M58.3 356.91h-1.8M58.3 348.42h-3.3M58.3 339.94h-1.8M58.3 331.45h-3.3M58.3 322.96h-1.8M58.3 314.47h-3.3M58.3 305.99h-1.8M58.3 297.5h-3.3M58.3 289.01h-1.8M58.3 280.52h-3.3M58.3 272.04h-1.8M58.3 263.55h-3.3M58.3 255.06h-1.8M58.3 246.57h-3.3M58.3 238.09h-1.8M58.3 229.6h-3.3M61.2 365.4v2.8M64.34 365.4v1.7M67.47 365.4v1.7M70.61 365.4v1.7M73.74 365.4v1.7M76.88 365.4v2.8M80.01 365.4v1.7M83.15 365.4v1.7M86.28 365.4v1.7M89.41 365.4v1.7M92.55 365.4v2.8M95.69 365.4v1.7M98.82 365.4v1.7M101.95 365.4v1.7M105.09 365.4v1.7M108.22 365.4v2.8M111.36 365.4v1.7M114.5 365.4v1.7M117.63 365.4v1.7M120.77 365.4v1.7M123.9 365.4v2.8M127.03 365.4v1.7M130.17 365.4v1.7M133.31 365.4v1.7M136.44 365.4v1.7M139.57 365.4v2.8M142.71 365.4v1.7M145.84 365.4v1.7M148.98 365.4v1.7M152.12 365.4v1.7M155.25 365.4v2.8M158.38 365.4v1.7M161.52 365.4v1.7M164.66 365.4v1.7M167.79 365.4v1.7M170.93 365.4v2.8M174.06 365.4v1.7M177.19 365.4v1.7M180.33 365.4v1.7M183.46 365.4v1.7M186.6 365.4v2.8M189.74 365.4v1.7M192.87 365.4v1.7M196 365.4v1.7M199.14 365.4v1.7M202.27 365.4v2.8M205.41 365.4v1.7M208.55 365.4v1.7M211.68 365.4v1.7M214.81 365.4v1.7M217.95 365.4v2.8M221.08 365.4v1.7M224.22 365.4v1.7M227.36 365.4v1.7M230.49 365.4v1.7M233.62 365.4v2.8M236.76 365.4v1.7M239.89 365.4v1.7M243.03 365.4v1.7M246.16 365.4v1.7M249.3 365.4v2.8" fill="none" stroke="#000" stroke-width="0.8"/>
<g font-family="Liberation Sans, Arial, sans-serif" stroke="#000" stroke-width="0.3" font-size="8.4" fill="#000" style="stroke-width:0.45">
<text x="54" y="368.4" text-anchor="end">0</text>
<text x="54" y="351.42" text-anchor="end">200</text>
<text x="54" y="334.45" text-anchor="end">400</text>
<text x="54" y="317.47" text-anchor="end">600</text>
<text x="54" y="300.5" text-anchor="end">800</text>
<text x="54" y="283.52" text-anchor="end">1000</text>
<text x="54" y="266.55" text-anchor="end">1200</text>
<text x="54" y="249.57" text-anchor="end">1400</text>
<text x="54" y="232.6" text-anchor="end">1600</text>
<text x="61.2" y="378.2" text-anchor="middle">0</text>
<text x="76.88" y="378.2" text-anchor="middle">5</text>
<text x="92.55" y="378.2" text-anchor="middle">10</text>
<text x="108.22" y="378.2" text-anchor="middle">15</text>
<text x="123.9" y="378.2" text-anchor="middle">20</text>
<text x="139.57" y="378.2" text-anchor="middle">25</text>
<text x="155.25" y="378.2" text-anchor="middle">30</text>
<text x="170.93" y="378.2" text-anchor="middle">35</text>
<text x="186.6" y="378.2" text-anchor="middle">40</text>
<text x="202.27" y="378.2" text-anchor="middle">45</text>
<text x="217.95" y="378.2" text-anchor="middle">50</text>
<text x="233.62" y="378.2" text-anchor="middle">55</text>
<text x="249.3" y="378.2" text-anchor="middle">60</text>
</g>
<text x="146.3" y="226.8" font-family="Liberation Sans, Arial, sans-serif" stroke="#000" stroke-width="0.3" font-size="10" font-weight="bold" text-anchor="middle">NCI-H292</text>
<text x="155.8" y="392.2" font-family="Liberation Sans, Arial, sans-serif" stroke="#000" stroke-width="0.3" font-size="8.7" font-weight="bold" text-anchor="middle">Days of Treatment</text>
<text transform="translate(28.7 290) rotate(-90)" font-family="Liberation Sans, Arial, sans-serif" stroke="#000" stroke-width="0.3" font-size="8.8" font-weight="bold" text-anchor="middle">Tumor Volume (mm<tspan font-size="6.6" dy="-4">3</tspan><tspan dy="4">)</tspan></text>
<text x="16.5" y="221.5" font-family="Liberation Sans, Arial, sans-serif" stroke="#000" stroke-width="0.3" font-size="14.3" font-weight="bold" style="stroke-width:0.6">C</text>
<polyline points="61.2,348.42 70.61,340.62 83.15,333.23 95.69,325.51 105.09,323.73 117.63,314.81 127.03,302.51 139.57,298.86 152.12,291.13 164.66,285.7 180.33,272.72 192.87,262.19" fill="none" stroke="#000" stroke-width="1.2"/>
<path d="M61.2 347.75V349.1M58.6 347.75h5.2M58.6 349.1h5.2M70.61 338.49V342.74M68.01 338.49h5.2M68.01 342.74h5.2M83.15 329.41V337.05M80.55 329.41h5.2M80.55 337.05h5.2M95.69 320.25V330.77M93.09 320.25h5.2M93.09 330.77h5.2M105.09 317.11V330.35M102.49 317.11h5.2M102.49 330.35h5.2M117.63 307.09V322.54M115.03 307.09h5.2M115.03 322.54h5.2M127.03 294.02V311M124.44 294.02h5.2M124.44 311h5.2M139.57 290.12V307.6M136.97 290.12h5.2M136.97 307.6h5.2M152.12 280.36V301.91M149.52 280.36h5.2M149.52 301.91h5.2M164.66 275.35V296.06M162.06 275.35h5.2M162.06 296.06h5.2M180.33 259.65V285.79M177.73 259.65h5.2M177.73 285.79h5.2M192.87 248.1V276.28M190.27 248.1h5.2M190.27 276.28h5.2" fill="none" stroke="#000" stroke-width="0.85"/>
<circle cx="61.2" cy="348.42" r="2.05" fill="#000"/>
<circle cx="70.61" cy="340.62" r="2.05" fill="#000"/>
<circle cx="83.15" cy="333.23" r="2.05" fill="#000"/>
<circle cx="95.69" cy="325.51" r="2.05" fill="#000"/>
<circle cx="105.09" cy="323.73" r="2.05" fill="#000"/>
<circle cx="117.63" cy="314.81" r="2.05" fill="#000"/>
<circle cx="127.03" cy="302.51" r="2.05" fill="#000"/>
<circle cx="139.57" cy="298.86" r="2.05" fill="#000"/>
<circle cx="152.12" cy="291.13" r="2.05" fill="#000"/>
<circle cx="164.66" cy="285.7" r="2.05" fill="#000"/>
<circle cx="180.33" cy="272.72" r="2.05" fill="#000"/>
<circle cx="192.87" cy="262.19" r="2.05" fill="#000"/>
<polyline points="61.2,348.42 70.61,346.81 83.15,350.12 95.69,349.44 105.09,349.53 117.63,345.03 127.03,338.66 139.57,334.84 152.12,328.48 164.66,321.69 180.33,306.5 192.87,298.6" fill="none" stroke="#000" stroke-width="1.2"/>
<path d="M61.2 347.75V349.1M58.6 347.75h5.2M58.6 349.1h5.2M70.61 345.11V348.51M68.01 345.11h5.2M68.01 348.51h5.2M83.15 348.42V351.82M80.55 348.42h5.2M80.55 351.82h5.2M95.69 347.32V351.57M93.09 347.32h5.2M93.09 351.57h5.2M105.09 346.13V352.92M102.49 346.13h5.2M102.49 352.92h5.2M117.63 341.21V348.85M115.03 341.21h5.2M115.03 348.85h5.2M127.03 334V343.33M124.44 334h5.2M124.44 343.33h5.2M139.57 328.48V341.21M136.97 328.48h5.2M136.97 341.21h5.2M152.12 320.25V336.71M149.52 320.25h5.2M149.52 336.71h5.2M164.66 310.23V333.15M162.06 310.23h5.2M162.06 333.15h5.2M180.33 289.95V323.05M177.73 289.95h5.2M177.73 323.05h5.2M192.87 280.86V316.34M190.27 280.86h5.2M190.27 316.34h5.2" fill="none" stroke="#000" stroke-width="0.85"/>
<circle cx="61.2" cy="348.42" r="1.65" fill="#fff" stroke="#000" stroke-width="0.9"/>
<circle cx="70.61" cy="346.81" r="1.65" fill="#fff" stroke="#000" stroke-width="0.9"/>
<circle cx="83.15" cy="350.12" r="1.65" fill="#fff" stroke="#000" stroke-width="0.9"/>
<circle cx="95.69" cy="349.44" r="1.65" fill="#fff" stroke="#000" stroke-width="0.9"/>
<circle cx="105.09" cy="349.53" r="1.65" fill="#fff" stroke="#000" stroke-width="0.9"/>
<circle cx="117.63" cy="345.03" r="1.65" fill="#fff" stroke="#000" stroke-width="0.9"/>
<circle cx="127.03" cy="338.66" r="1.65" fill="#fff" stroke="#000" stroke-width="0.9"/>
<circle cx="139.57" cy="334.84" r="1.65" fill="#fff" stroke="#000" stroke-width="0.9"/>
<circle cx="152.12" cy="328.48" r="1.65" fill="#fff" stroke="#000" stroke-width="0.9"/>
<circle cx="164.66" cy="321.69" r="1.65" fill="#fff" stroke="#000" stroke-width="0.9"/>
<circle cx="180.33" cy="306.5" r="1.65" fill="#fff" stroke="#000" stroke-width="0.9"/>
<circle cx="192.87" cy="298.6" r="1.65" fill="#fff" stroke="#000" stroke-width="0.9"/>
<polyline points="61.2,348.42 70.61,346.9 83.15,339.43 95.69,339.94 105.09,336.54 117.63,331.87 127.03,331.7 139.57,326.1 152.12,328.39 164.66,327.21 180.33,325.08 192.87,321.94" fill="none" stroke="#000" stroke-width="1.2"/>
<path d="M61.2 347.75V349.1M58.6 347.75h5.2M58.6 349.1h5.2M70.61 345.62V348.17M68.01 345.62h5.2M68.01 348.17h5.2M83.15 337.31V341.55M80.55 337.31h5.2M80.55 341.55h5.2M95.69 336.88V342.99M93.09 336.88h5.2M93.09 342.99h5.2M105.09 331.11V341.97M102.49 331.11h5.2M102.49 341.97h5.2M117.63 327.21V336.54M115.03 327.21h5.2M115.03 336.54h5.2M127.03 327.21V336.2M124.44 327.21h5.2M124.44 336.2h5.2M139.57 321.43V330.77M136.97 321.43h5.2M136.97 330.77h5.2M152.12 322.96V333.83M149.52 322.96h5.2M149.52 333.83h5.2M164.66 321.26V333.15M162.06 321.26h5.2M162.06 333.15h5.2M180.33 319.82V330.35M177.73 319.82h5.2M177.73 330.35h5.2M192.87 315.24V328.65M190.27 315.24h5.2M190.27 328.65h5.2" fill="none" stroke="#000" stroke-width="0.85"/>
<polygon points="59.3,347.12 63.1,347.12 61.2,350.52" fill="#000" stroke="#000" stroke-width="0.6"/>
<polygon points="68.7,345.6 72.51,345.6 70.61,349" fill="#000" stroke="#000" stroke-width="0.6"/>
<polygon points="81.25,338.13 85.05,338.13 83.15,341.53" fill="#000" stroke="#000" stroke-width="0.6"/>
<polygon points="93.78,338.64 97.59,338.64 95.69,342.04" fill="#000" stroke="#000" stroke-width="0.6"/>
<polygon points="103.19,335.24 106.99,335.24 105.09,338.64" fill="#000" stroke="#000" stroke-width="0.6"/>
<polygon points="115.73,330.57 119.53,330.57 117.63,333.97" fill="#000" stroke="#000" stroke-width="0.6"/>
<polygon points="125.13,330.4 128.94,330.4 127.03,333.8" fill="#000" stroke="#000" stroke-width="0.6"/>
<polygon points="137.67,324.8 141.47,324.8 139.57,328.2" fill="#000" stroke="#000" stroke-width="0.6"/>
<polygon points="150.22,327.09 154.02,327.09 152.12,330.49" fill="#000" stroke="#000" stroke-width="0.6"/>
<polygon points="162.75,325.91 166.56,325.91 164.66,329.31" fill="#000" stroke="#000" stroke-width="0.6"/>
<polygon points="178.43,323.78 182.23,323.78 180.33,327.18" fill="#000" stroke="#000" stroke-width="0.6"/>
<polygon points="190.97,320.64 194.77,320.64 192.87,324.04" fill="#000" stroke="#000" stroke-width="0.6"/>
<polyline points="61.2,348.42 70.61,351.48 83.15,352.24 95.69,355.38 105.09,358.78 117.63,355.38 127.03,356.57 139.57,356.15 152.12,355.64 164.66,354.96 180.33,354.03 192.87,351.65 205.41,349.95 214.81,346.13 224.22,342.65 233.62,335.86 249.3,331.11" fill="none" stroke="#000" stroke-width="1.2"/>
<path d="M61.2 347.75V349.1M58.6 347.75h5.2M58.6 349.1h5.2M70.61 350.46V352.5M68.01 350.46h5.2M68.01 352.5h5.2M83.15 351.23V353.26M80.55 351.23h5.2M80.55 353.26h5.2M95.69 354.37V356.4M93.09 354.37h5.2M93.09 356.4h5.2M105.09 357.93V359.63M102.49 357.93h5.2M102.49 359.63h5.2M117.63 354.37V356.4M115.03 354.37h5.2M115.03 356.4h5.2M127.03 355.55V357.59M124.44 355.55h5.2M124.44 357.59h5.2M139.57 354.96V357.34M136.97 354.96h5.2M136.97 357.34h5.2M152.12 354.11V357.17M149.52 354.11h5.2M149.52 357.17h5.2M164.66 352.84V357.08M162.06 352.84h5.2M162.06 357.08h5.2M180.33 351.06V357M177.73 351.06h5.2M177.73 357h5.2M192.87 348.26V355.05M190.27 348.26h5.2M190.27 355.05h5.2M205.41 346.13V353.77M202.81 346.13h5.2M202.81 353.77h5.2M214.81 341.3V350.97M212.22 341.3h5.2M212.22 350.97h5.2M224.22 337.05V348.26M221.62 337.05h5.2M221.62 348.26h5.2M233.62 328.31V343.42M231.03 328.31h5.2M231.03 343.42h5.2M249.3 322.45V339.77M246.7 322.45h5.2M246.7 339.77h5.2" fill="none" stroke="#000" stroke-width="0.85"/>
<polygon points="59.3,347.12 63.1,347.12 61.2,350.52" fill="#fff" stroke="#000" stroke-width="0.9"/>
<polygon points="68.7,350.18 72.51,350.18 70.61,353.58" fill="#fff" stroke="#000" stroke-width="0.9"/>
<polygon points="81.25,350.94 85.05,350.94 83.15,354.34" fill="#fff" stroke="#000" stroke-width="0.9"/>
<polygon points="93.78,354.08 97.59,354.08 95.69,357.48" fill="#fff" stroke="#000" stroke-width="0.9"/>
<polygon points="103.19,357.48 106.99,357.48 105.09,360.88" fill="#fff" stroke="#000" stroke-width="0.9"/>
<polygon points="115.73,354.08 119.53,354.08 117.63,357.48" fill="#fff" stroke="#000" stroke-width="0.9"/>
<polygon points="125.13,355.27 128.94,355.27 127.03,358.67" fill="#fff" stroke="#000" stroke-width="0.9"/>
<polygon points="137.67,354.85 141.47,354.85 139.57,358.25" fill="#fff" stroke="#000" stroke-width="0.9"/>
<polygon points="150.22,354.34 154.02,354.34 152.12,357.74" fill="#fff" stroke="#000" stroke-width="0.9"/>
<polygon points="162.75,353.66 166.56,353.66 164.66,357.06" fill="#fff" stroke="#000" stroke-width="0.9"/>
<polygon points="178.43,352.73 182.23,352.73 180.33,356.13" fill="#fff" stroke="#000" stroke-width="0.9"/>
<polygon points="190.97,350.35 194.77,350.35 192.87,353.75" fill="#fff" stroke="#000" stroke-width="0.9"/>
<polygon points="203.51,348.65 207.31,348.65 205.41,352.05" fill="#fff" stroke="#000" stroke-width="0.9"/>
<polygon points="212.91,344.83 216.72,344.83 214.81,348.23" fill="#fff" stroke="#000" stroke-width="0.9"/>
<polygon points="222.32,341.35 226.12,341.35 224.22,344.75" fill="#fff" stroke="#000" stroke-width="0.9"/>
<polygon points="231.72,334.56 235.53,334.56 233.62,337.96" fill="#fff" stroke="#000" stroke-width="0.9"/>
<polygon points="247.4,329.81 251.2,329.81 249.3,333.21" fill="#fff" stroke="#000" stroke-width="0.9"/>
<g font-family="Liberation Sans, Arial, sans-serif" stroke="#000" stroke-width="0.3" font-size="7.5" font-weight="bold" fill="#000">
<path d="M62.8 239.1h17.4" stroke="#000" stroke-width="0.8"/>
<circle cx="71.5" cy="239.1" r="2.05" fill="#000"/>
<text x="84.5" y="241.8">Saline</text>
<path d="M62.8 248.5h17.4" stroke="#000" stroke-width="0.8"/>
<circle cx="71.5" cy="248.5" r="1.65" fill="#fff" stroke="#000" stroke-width="0.9"/>
<text x="84.5" y="251.2">Cetuximab</text>
<path d="M62.8 257.9h17.4" stroke="#000" stroke-width="0.8"/>
<polygon points="69.6,256.6 73.4,256.6 71.5,260" fill="#000" stroke="#000" stroke-width="0.6"/>
<text x="84.5" y="260.6">Cisplatin</text>
<path d="M62.8 267.3h17.4" stroke="#000" stroke-width="0.8"/>
<polygon points="69.6,266 73.4,266 71.5,269.4" fill="#fff" stroke="#000" stroke-width="0.9"/>
<text x="84.5" y="270">Combination</text>
</g>
<path d="M192.87 356.2H249.3" stroke="#000" stroke-width="0.7" fill="none"/>
<text x="250.8" y="362.8" font-family="Liberation Sans, Arial, sans-serif" stroke="#000" stroke-width="0.3" font-size="7.2" text-anchor="end">Treatment stopped</text>
<path d="M302.2 231.7H495V366.7" fill="none" stroke="#222" stroke-width="0.9"/>
<path d="M302.2 231.7V366.7H495" fill="none" stroke="#000" stroke-width="1.1"/>
<path d="M302.2 366.7h-3.3M302.2 358.26h-1.8M302.2 349.82h-3.3M302.2 341.39h-1.8M302.2 332.95h-3.3M302.2 324.51h-1.8M302.2 316.07h-3.3M302.2 307.64h-1.8M302.2 299.2h-3.3M302.2 290.76h-1.8M302.2 282.32h-3.3M302.2 273.89h-1.8M302.2 265.45h-3.3M302.2 257.01h-1.8M302.2 248.57h-3.3M302.2 240.14h-1.8M302.2 231.7h-3.3M306 366.7v2.8M309.1 366.7v1.7M312.19 366.7v1.7M315.29 366.7v1.7M318.38 366.7v1.7M321.48 366.7v2.8M324.57 366.7v1.7M327.67 366.7v1.7M330.76 366.7v1.7M333.86 366.7v1.7M336.95 366.7v2.8M340.05 366.7v1.7M343.14 366.7v1.7M346.24 366.7v1.7M349.33 366.7v1.7M352.43 366.7v2.8M355.52 366.7v1.7M358.62 366.7v1.7M361.71 366.7v1.7M364.81 366.7v1.7M367.9 366.7v2.8M371 366.7v1.7M374.09 366.7v1.7M377.19 366.7v1.7M380.28 366.7v1.7M383.38 366.7v2.8M386.47 366.7v1.7M389.56 366.7v1.7M392.66 366.7v1.7M395.75 366.7v1.7M398.85 366.7v2.8M401.94 366.7v1.7M405.04 366.7v1.7M408.13 366.7v1.7M411.23 366.7v1.7M414.32 366.7v2.8M417.42 366.7v1.7M420.51 366.7v1.7M423.61 366.7v1.7M426.71 366.7v1.7M429.8 366.7v2.8M432.89 366.7v1.7M435.99 366.7v1.7M439.09 366.7v1.7M442.18 366.7v1.7M445.27 366.7v2.8M448.37 366.7v1.7M451.47 366.7v1.7M454.56 366.7v1.7M457.65 366.7v1.7M460.75 366.7v2.8M463.85 366.7v1.7M466.94 366.7v1.7M470.03 366.7v1.7M473.13 366.7v1.7M476.23 366.7v2.8M479.32 366.7v1.7M482.42 366.7v1.7M485.51 366.7v1.7M488.61 366.7v1.7M491.7 366.7v2.8" fill="none" stroke="#000" stroke-width="0.8"/>
<g font-family="Liberation Sans, Arial, sans-serif" stroke="#000" stroke-width="0.3" font-size="8.4" fill="#000" style="stroke-width:0.45">
<text x="298.1" y="369.7" text-anchor="end">0</text>
<text x="298.1" y="352.82" text-anchor="end">200</text>
<text x="298.1" y="335.95" text-anchor="end">400</text>
<text x="298.1" y="319.07" text-anchor="end">600</text>
<text x="298.1" y="302.2" text-anchor="end">800</text>
<text x="298.1" y="285.32" text-anchor="end">1000</text>
<text x="298.1" y="268.45" text-anchor="end">1200</text>
<text x="298.1" y="251.57" text-anchor="end">1400</text>
<text x="298.1" y="234.7" text-anchor="end">1600</text>
<text x="306" y="378.8" text-anchor="middle">0</text>
<text x="321.48" y="378.8" text-anchor="middle">5</text>
<text x="336.95" y="378.8" text-anchor="middle">10</text>
<text x="352.43" y="378.8" text-anchor="middle">15</text>
<text x="367.9" y="378.8" text-anchor="middle">20</text>
<text x="383.38" y="378.8" text-anchor="middle">25</text>
<text x="398.85" y="378.8" text-anchor="middle">30</text>
<text x="414.32" y="378.8" text-anchor="middle">35</text>
<text x="429.8" y="378.8" text-anchor="middle">40</text>
<text x="445.27" y="378.8" text-anchor="middle">45</text>
<text x="460.75" y="378.8" text-anchor="middle">50</text>
<text x="476.23" y="378.8" text-anchor="middle">55</text>
<text x="491.7" y="378.8" text-anchor="middle">60</text>
</g>
<text x="396.2" y="227.7" font-family="Liberation Sans, Arial, sans-serif" stroke="#000" stroke-width="0.3" font-size="10" font-weight="bold" text-anchor="middle">NCI-H292</text>
<text x="399.6" y="392.7" font-family="Liberation Sans, Arial, sans-serif" stroke="#000" stroke-width="0.3" font-size="8.7" font-weight="bold" text-anchor="middle">Days of Treatment</text>
<text transform="translate(273.1 298.4) rotate(-90)" font-family="Liberation Sans, Arial, sans-serif" stroke="#000" stroke-width="0.3" font-size="8.8" font-weight="bold" text-anchor="middle">Tumor Volume (mm<tspan font-size="6.6" dy="-4">3</tspan><tspan dy="4">)</tspan></text>
<text x="267" y="221.2" font-family="Liberation Sans, Arial, sans-serif" stroke="#000" stroke-width="0.3" font-size="14.3" font-weight="bold" style="stroke-width:0.6">D</text>
<polyline points="306,349.82 315.29,342.06 327.67,334.72 340.05,327.04 349.33,325.27 361.71,316.41 371,304.18 383.38,300.55 395.75,292.87 408.13,287.47 423.61,274.56 435.99,264.1" fill="none" stroke="#000" stroke-width="1.2"/>
<path d="M306 349.15V350.5M303.4 349.15h5.2M303.4 350.5h5.2M315.29 339.95V344.17M312.69 339.95h5.2M312.69 344.17h5.2M327.67 330.92V338.52M325.06 330.92h5.2M325.06 338.52h5.2M340.05 321.81V332.27M337.44 321.81h5.2M337.44 332.27h5.2M349.33 318.69V331.85M346.73 318.69h5.2M346.73 331.85h5.2M361.71 308.73V324.09M359.11 308.73h5.2M359.11 324.09h5.2M371 295.74V312.62M368.39 295.74h5.2M368.39 312.62h5.2M383.38 291.86V309.24M380.77 291.86h5.2M380.77 309.24h5.2M395.75 282.16V303.59M393.15 282.16h5.2M393.15 303.59h5.2M408.13 277.18V297.77M405.53 277.18h5.2M405.53 297.77h5.2M423.61 261.57V287.56M421.01 261.57h5.2M421.01 287.56h5.2M435.99 250.09V278.11M433.39 250.09h5.2M433.39 278.11h5.2" fill="none" stroke="#000" stroke-width="0.85"/>
<circle cx="306" cy="349.82" r="2.05" fill="#000"/>
<circle cx="315.29" cy="342.06" r="2.05" fill="#000"/>
<circle cx="327.67" cy="334.72" r="2.05" fill="#000"/>
<circle cx="340.05" cy="327.04" r="2.05" fill="#000"/>
<circle cx="349.33" cy="325.27" r="2.05" fill="#000"/>
<circle cx="361.71" cy="316.41" r="2.05" fill="#000"/>
<circle cx="371" cy="304.18" r="2.05" fill="#000"/>
<circle cx="383.38" cy="300.55" r="2.05" fill="#000"/>
<circle cx="395.75" cy="292.87" r="2.05" fill="#000"/>
<circle cx="408.13" cy="287.47" r="2.05" fill="#000"/>
<circle cx="423.61" cy="274.56" r="2.05" fill="#000"/>
<circle cx="435.99" cy="264.1" r="2.05" fill="#000"/>
<polyline points="306,349.82 315.29,348.22 327.67,351.51 340.05,350.84 349.33,350.92 361.71,346.45 371,340.12 383.38,336.32 395.75,330 408.13,323.25 423.61,308.14 435.99,300.3" fill="none" stroke="#000" stroke-width="1.2"/>
<path d="M306 349.15V350.5M303.4 349.15h5.2M303.4 350.5h5.2M315.29 346.53V349.91M312.69 346.53h5.2M312.69 349.91h5.2M327.67 349.82V353.2M325.06 349.82h5.2M325.06 353.2h5.2M340.05 348.73V352.95M337.44 348.73h5.2M337.44 352.95h5.2M349.33 347.55V354.3M346.73 347.55h5.2M346.73 354.3h5.2M361.71 342.65V350.25M359.11 342.65h5.2M359.11 350.25h5.2M371 335.48V344.76M368.39 335.48h5.2M368.39 344.76h5.2M383.38 330V342.65M380.77 330h5.2M380.77 342.65h5.2M395.75 321.81V338.18M393.15 321.81h5.2M393.15 338.18h5.2M408.13 311.86V334.64M405.53 311.86h5.2M405.53 334.64h5.2M423.61 291.69V324.6M421.01 291.69h5.2M421.01 324.6h5.2M435.99 282.66V317.93M433.39 282.66h5.2M433.39 317.93h5.2" fill="none" stroke="#000" stroke-width="0.85"/>
<circle cx="306" cy="349.82" r="1.65" fill="#fff" stroke="#000" stroke-width="0.9"/>
<circle cx="315.29" cy="348.22" r="1.65" fill="#fff" stroke="#000" stroke-width="0.9"/>
<circle cx="327.67" cy="351.51" r="1.65" fill="#fff" stroke="#000" stroke-width="0.9"/>
<circle cx="340.05" cy="350.84" r="1.65" fill="#fff" stroke="#000" stroke-width="0.9"/>
<circle cx="349.33" cy="350.92" r="1.65" fill="#fff" stroke="#000" stroke-width="0.9"/>
<circle cx="361.71" cy="346.45" r="1.65" fill="#fff" stroke="#000" stroke-width="0.9"/>
<circle cx="371" cy="340.12" r="1.65" fill="#fff" stroke="#000" stroke-width="0.9"/>
<circle cx="383.38" cy="336.32" r="1.65" fill="#fff" stroke="#000" stroke-width="0.9"/>
<circle cx="395.75" cy="330" r="1.65" fill="#fff" stroke="#000" stroke-width="0.9"/>
<circle cx="408.13" cy="323.25" r="1.65" fill="#fff" stroke="#000" stroke-width="0.9"/>
<circle cx="423.61" cy="308.14" r="1.65" fill="#fff" stroke="#000" stroke-width="0.9"/>
<circle cx="435.99" cy="300.3" r="1.65" fill="#fff" stroke="#000" stroke-width="0.9"/>
<polyline points="306,349.82 315.29,343.75 327.67,336.58 340.05,331.77 349.33,327.63 361.71,319.96 371,313.54 383.38,305.87 395.75,300.8 408.13,295.15 423.61,283.84 435.99,278.87" fill="none" stroke="#000" stroke-width="1.2"/>
<path d="M306 349.15V350.5M303.4 349.15h5.2M303.4 350.5h5.2M315.29 342.06V345.44M312.69 342.06h5.2M312.69 345.44h5.2M327.67 334.05V339.11M325.06 334.05h5.2M325.06 339.11h5.2M340.05 327.97V335.57M337.44 327.97h5.2M337.44 335.57h5.2M349.33 323.08V332.19M346.73 323.08h5.2M346.73 332.19h5.2M361.71 313.8V326.12M359.11 313.8h5.2M359.11 326.12h5.2M371 307.13V319.96M368.39 307.13h5.2M368.39 319.96h5.2M383.38 297.85V313.88M380.77 297.85h5.2M380.77 313.88h5.2M395.75 292.79V308.82M393.15 292.79h5.2M393.15 308.82h5.2M408.13 287.13V303.17M405.53 287.13h5.2M405.53 303.17h5.2M423.61 274.56V293.12M421.01 274.56h5.2M421.01 293.12h5.2M435.99 269.16V288.57M433.39 269.16h5.2M433.39 288.57h5.2" fill="none" stroke="#000" stroke-width="0.85"/>
<polygon points="304.1,348.52 307.9,348.52 306,351.93" fill="#000" stroke="#000" stroke-width="0.6"/>
<polygon points="313.39,342.45 317.19,342.45 315.29,345.85" fill="#000" stroke="#000" stroke-width="0.6"/>
<polygon points="325.77,335.28 329.56,335.28 327.67,338.68" fill="#000" stroke="#000" stroke-width="0.6"/>
<polygon points="338.15,330.47 341.94,330.47 340.05,333.87" fill="#000" stroke="#000" stroke-width="0.6"/>
<polygon points="347.43,326.33 351.23,326.33 349.33,329.73" fill="#000" stroke="#000" stroke-width="0.6"/>
<polygon points="359.81,318.66 363.61,318.66 361.71,322.06" fill="#000" stroke="#000" stroke-width="0.6"/>
<polygon points="369.1,312.24 372.89,312.24 371,315.64" fill="#000" stroke="#000" stroke-width="0.6"/>
<polygon points="381.48,304.57 385.27,304.57 383.38,307.97" fill="#000" stroke="#000" stroke-width="0.6"/>
<polygon points="393.86,299.5 397.65,299.5 395.75,302.9" fill="#000" stroke="#000" stroke-width="0.6"/>
<polygon points="406.24,293.85 410.03,293.85 408.13,297.25" fill="#000" stroke="#000" stroke-width="0.6"/>
<polygon points="421.71,282.54 425.51,282.54 423.61,285.94" fill="#000" stroke="#000" stroke-width="0.6"/>
<polygon points="434.09,277.57 437.89,277.57 435.99,280.97" fill="#000" stroke="#000" stroke-width="0.6"/>
<polyline points="306,349.82 315.29,350.42 327.67,350.42 340.05,351.93 349.33,353.45 361.71,351.93 371,351.93 383.38,349.49 395.75,348.81 408.13,347.29 423.61,349.49 435.99,346.45" fill="none" stroke="#000" stroke-width="1.2"/>
<path d="M306 349.15V350.5M303.4 349.15h5.2M303.4 350.5h5.2M315.29 349.15V351.68M312.69 349.15h5.2M312.69 351.68h5.2M327.67 349.15V351.68M325.06 349.15h5.2M325.06 351.68h5.2M340.05 350.25V353.62M337.44 350.25h5.2M337.44 353.62h5.2M349.33 351.18V355.73M346.73 351.18h5.2M346.73 355.73h5.2M361.71 350.08V353.79M359.11 350.08h5.2M359.11 353.79h5.2M371 350.25V353.62M368.39 350.25h5.2M368.39 353.62h5.2M383.38 346.87V352.1M380.77 346.87h5.2M380.77 352.1h5.2M395.75 345.02V352.61M393.15 345.02h5.2M393.15 352.61h5.2M408.13 344.09V350.5M405.53 344.09h5.2M405.53 350.5h5.2M423.61 346.53V352.44M421.01 346.53h5.2M421.01 352.44h5.2M435.99 342.82V350.08M433.39 342.82h5.2M433.39 350.08h5.2" fill="none" stroke="#000" stroke-width="0.85"/>
<polygon points="304.1,348.52 307.9,348.52 306,351.93" fill="#fff" stroke="#000" stroke-width="0.9"/>
<polygon points="313.39,349.12 317.19,349.12 315.29,352.52" fill="#fff" stroke="#000" stroke-width="0.9"/>
<polygon points="325.77,349.12 329.56,349.12 327.67,352.52" fill="#fff" stroke="#000" stroke-width="0.9"/>
<polygon points="338.15,350.63 341.94,350.63 340.05,354.03" fill="#fff" stroke="#000" stroke-width="0.9"/>
<polygon points="347.43,352.15 351.23,352.15 349.33,355.55" fill="#fff" stroke="#000" stroke-width="0.9"/>
<polygon points="359.81,350.63 363.61,350.63 361.71,354.03" fill="#fff" stroke="#000" stroke-width="0.9"/>
<polygon points="369.1,350.63 372.89,350.63 371,354.03" fill="#fff" stroke="#000" stroke-width="0.9"/>
<polygon points="381.48,348.19 385.27,348.19 383.38,351.59" fill="#fff" stroke="#000" stroke-width="0.9"/>
<polygon points="393.86,347.51 397.65,347.51 395.75,350.91" fill="#fff" stroke="#000" stroke-width="0.9"/>
<polygon points="406.24,345.99 410.03,345.99 408.13,349.39" fill="#fff" stroke="#000" stroke-width="0.9"/>
<polygon points="421.71,348.19 425.51,348.19 423.61,351.59" fill="#fff" stroke="#000" stroke-width="0.9"/>
<polygon points="434.09,345.15 437.89,345.15 435.99,348.55" fill="#fff" stroke="#000" stroke-width="0.9"/>
<g font-family="Liberation Sans, Arial, sans-serif" stroke="#000" stroke-width="0.3" font-size="7.5" font-weight="bold" fill="#000">
<path d="M306.2 240.9h17.4" stroke="#000" stroke-width="0.8"/>
<circle cx="314.9" cy="240.9" r="2.05" fill="#000"/>
<text x="327.9" y="243.6">Saline</text>
<path d="M306.2 250.3h17.4" stroke="#000" stroke-width="0.8"/>
<circle cx="314.9" cy="250.3" r="1.65" fill="#fff" stroke="#000" stroke-width="0.9"/>
<text x="327.9" y="253">Cetuximab</text>
<path d="M306.2 259.7h17.4" stroke="#000" stroke-width="0.8"/>
<polygon points="313,258.4 316.8,258.4 314.9,261.8" fill="#000" stroke="#000" stroke-width="0.6"/>
<text x="327.9" y="262.4">Carboplatin</text>
<path d="M306.2 269.1h17.4" stroke="#000" stroke-width="0.8"/>
<polygon points="313,267.8 316.8,267.8 314.9,271.2" fill="#fff" stroke="#000" stroke-width="0.9"/>
<text x="327.9" y="271.8">Combination</text>
</g>
<text x="17.6" y="415.3" font-family="Liberation Sans, Arial, sans-serif" stroke="#000" stroke-width="0.3" font-size="13.4" font-weight="bold" style="stroke-width:0.6">E</text>
<g font-family="Liberation Sans, Arial, sans-serif" stroke="#000" stroke-width="0.3" font-size="11.3" font-weight="bold"><text x="42.5" y="425">Tx</text><text x="97.6" y="425">% T/C</text><text x="158" y="425">Regression</text></g>
<path d="M34.7 431H223M34.7 498H223M34.7 566.7H223M34.7 635H223M34.7 700.1H223M85.4 410V700" stroke="#111" stroke-width="1.1" fill="none"/>
<g font-family="Liberation Sans, Arial, sans-serif" stroke="#000" stroke-width="0.3" font-size="11.1" fill="#000" style="stroke-width:0.38">
<text x="42.1" y="447">Saline</text>
<text x="180.2" y="447">0/12</text>
<text x="42.1" y="460.65">Cetuxi</text>
<text x="95.3" y="460.65">65%</text><text x="123.2" y="458.35" font-size="6.6" font-weight="bold">ns1</text>
<text x="180.2" y="460.65">1/10</text>
<text x="42.1" y="474.3">Gemci</text>
<text x="95.3" y="474.3">86%</text><text x="123.2" y="472" font-size="6.6" font-weight="bold">ns1</text>
<text x="180.2" y="474.3">0/11</text>
<text x="42.1" y="487.95">Combi</text>
<text x="95.3" y="487.95">22%<tspan dx="2" font-size="1"> </tspan><tspan font-size="11.8" font-weight="bold">*</tspan><tspan font-size="6.8" font-weight="bold" dy="-2.6">2,</tspan><tspan font-size="11.8" font-weight="bold" dy="2.6">***</tspan><tspan font-size="6.8" font-weight="bold" dy="-2.6">3</tspan></text>
<text x="180.2" y="487.95">4/11</text><text x="205.3" y="487.95"><tspan font-size="11.8" font-weight="bold">*</tspan><tspan font-size="6.8" font-weight="bold" dy="-2.6">7</tspan></text>
<text x="42.1" y="515.4">Saline</text>
<text x="180.2" y="515.4">0/12</text>
<text x="42.1" y="529.05">Cetuxi</text>
<text x="95.3" y="529.05">65%</text><text x="123.2" y="526.75" font-size="6.6" font-weight="bold">ns1</text>
<text x="180.2" y="529.05">1/10</text>
<text x="42.1" y="542.7">Doce</text>
<text x="95.3" y="542.7">34%<tspan dx="2" font-size="1"> </tspan><tspan font-size="11.8" font-weight="bold">***</tspan><tspan font-size="6.8" font-weight="bold" dy="-2.6">1</tspan></text>
<text x="180.2" y="542.7">1/10</text>
<text x="42.1" y="556.35">Combi</text>
<text x="95.3" y="556.35">11%<tspan dx="2" font-size="1"> </tspan><tspan font-size="11.8" font-weight="bold">**</tspan><tspan font-size="6.8" font-weight="bold" dy="-2.6">2,</tspan><tspan font-size="11.8" font-weight="bold" dy="2.6">***</tspan><tspan font-size="6.8" font-weight="bold" dy="-2.6">4</tspan></text>
<text x="180.2" y="556.35">9/10</text><text x="205.3" y="556.35"><tspan font-size="11.8" font-weight="bold">***</tspan><tspan font-size="6.8" font-weight="bold" dy="-2.6">7</tspan></text>
<text x="42.1" y="583.9">Saline</text>
<text x="180.2" y="583.9">0/12</text>
<text x="42.1" y="597.55">Cetuxi</text>
<text x="95.3" y="597.55">65%</text><text x="123.2" y="595.25" font-size="6.6" font-weight="bold">ns1</text>
<text x="180.2" y="597.55">1/10</text>
<text x="42.1" y="611.2">Cispl</text>
<text x="95.3" y="611.2">42%<tspan dx="2" font-size="1"> </tspan><tspan font-size="11.8" font-weight="bold">***</tspan><tspan font-size="6.8" font-weight="bold" dy="-2.6">1</tspan></text>
<text x="180.2" y="611.2">0/9</text>
<text x="42.1" y="624.85">Combi</text>
<text x="95.3" y="624.85">13%<tspan dx="2" font-size="1"> </tspan><tspan font-size="11.8" font-weight="bold">*</tspan><tspan font-size="6.8" font-weight="bold" dy="-2.6">2,</tspan><tspan font-size="11.8" font-weight="bold" dy="2.6">***</tspan><tspan font-size="6.8" font-weight="bold" dy="-2.6">5</tspan></text>
<text x="180.2" y="624.85">6/10</text><text x="205.3" y="624.85"><tspan font-size="11.8" font-weight="bold">***</tspan><tspan font-size="6.8" font-weight="bold" dy="-2.6">7</tspan></text>
<text x="42.1" y="652.4">Saline</text>
<text x="180.2" y="652.4">0/12</text>
<text x="42.1" y="666.05">Cetuxi</text>
<text x="95.3" y="666.05">65%</text><text x="123.2" y="663.75" font-size="6.6" font-weight="bold">ns1</text>
<text x="180.2" y="666.05">1/10</text>
<text x="42.1" y="679.7">Carbo</text>
<text x="95.3" y="679.7">86%</text><text x="123.2" y="677.4" font-size="6.6" font-weight="bold">ns1</text>
<text x="180.2" y="679.7">0/10</text>
<text x="42.1" y="693.35">Combi</text>
<text x="95.3" y="693.35">19%<tspan dx="2" font-size="1"> </tspan><tspan font-size="11.8" font-weight="bold">*</tspan><tspan font-size="6.8" font-weight="bold" dy="-2.6">2,</tspan><tspan font-size="11.8" font-weight="bold" dy="2.6">***</tspan><tspan font-size="6.8" font-weight="bold" dy="-2.6">6</tspan></text>
<text x="180.2" y="693.35">4/10</text><text x="205.3" y="693.35"><tspan font-size="11.8" font-weight="bold">*</tspan><tspan font-size="6.8" font-weight="bold" dy="-2.6">7</tspan></text>
</g>
</g>
<path d="M0 0H520V1.2H0ZM0 0H1.2V718H0ZM518.3 0H520V718H518.3ZM0 716.7H520V718H0Z" fill="#000"/>
</svg>
</body></html>
